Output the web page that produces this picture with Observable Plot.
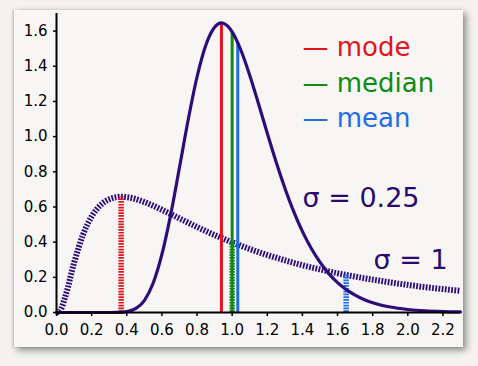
<!DOCTYPE html>
<html>
<head>
<meta charset="utf-8">
<script src="https://cdn.jsdelivr.net/npm/d3@7"></script>
<script src="https://cdn.jsdelivr.net/npm/@observablehq/plot@0.6"></script>
<style>
  html, body { margin: 0; padding: 0; width: 478px; height: 366px; overflow: hidden; background: #f3f2f0; }
  #card { position: absolute; left: 14px; top: 10px; width: 449px; height: 337px; background: #f7f6f4;
          box-shadow: 3px 3px 7px rgba(0,0,0,0.45), -1px 0 2px rgba(0,0,0,0.18); }
  #chart { position: absolute; left: 0; top: 0; }
</style>
</head>
<body>
<div id="card"></div>
<div id="chart"></div>
<script>
// σ = 0.25 curve
const x025 = [0, 0.1, 0.2, 0.3, 0.35, 0.4, 0.45, 0.5, 0.55, 0.6, 0.65, 0.7, 0.75, 0.8, 0.85, 0.9, 0.939, 0.95, 1.0, 1.05, 1.1, 1.15, 1.2, 1.25, 1.3, 1.35, 1.4, 1.45, 1.5, 1.55, 1.6, 1.65, 1.7, 1.75, 1.8, 1.9, 2.0, 2.1, 2.2, 2.3];
const y025 = [0, 0, 0, 0.0001, 0.0007, 0.0048, 0.0216, 0.068, 0.166, 0.330, 0.556, 0.824, 1.097, 1.339, 1.520, 1.622, 1.647, 1.645, 1.596, 1.491, 1.349, 1.187, 1.019, 0.857, 0.708, 0.575, 0.461, 0.365, 0.286, 0.221, 0.170, 0.130, 0.099, 0.074, 0.056, 0.031, 0.017, 0.009, 0.005, 0.003];
// σ = 1 curve
const x1 = [0, 0.02, 0.05, 0.1, 0.15, 0.2, 0.25, 0.3, 0.368, 0.4, 0.5, 0.6, 0.7, 0.8, 0.9, 1.0, 1.1, 1.2, 1.3, 1.4, 1.5, 1.6, 1.7, 1.8, 1.9, 2.0, 2.1, 2.2, 2.3];
const y1 = [0, 0.010, 0.090, 0.282, 0.440, 0.546, 0.610, 0.644, 0.658, 0.656, 0.628, 0.584, 0.535, 0.486, 0.441, 0.399, 0.361, 0.327, 0.297, 0.269, 0.245, 0.223, 0.204, 0.187, 0.171, 0.157, 0.144, 0.133, 0.123];

// statistics
const statNames = ["mode", "median", "mean"];
const statColors = ["#e3131b", "#118a11", "#1f6ce6"];
const stat025X = [0.939, 1.0, 1.032];
const stat025Y = [1.647, 1.596, 1.534];
const stat1X = [0.368, 1.0, 1.649];
const stat1Y = [0.658, 0.399, 0.214];

const xTicks = [0, 0.2, 0.4, 0.6, 0.8, 1.0, 1.2, 1.4, 1.6, 1.8, 2.0, 2.2];
const yTicks = [0, 0.2, 0.4, 0.6, 0.8, 1.0, 1.2, 1.4, 1.6];
const curveLabels = ["σ = 0.25", "σ = 1"];

const curveColor = "#2e0c7c";
const d025 = x025.map((x, i) => ({x, y: y025[i]}));
const d1 = x1.map((x, i) => ({x, y: y1[i]}));
const s025 = statNames.map((n, i) => ({n, x: stat025X[i], y: stat025Y[i], c: statColors[i]}));
const s1 = statNames.map((n, i) => ({n, x: stat1X[i], y: stat1Y[i], c: statColors[i]}));

const legendDy = [34, 70, 105];
const legendMarks = statNames.map((n, i) =>
  Plot.text([`— ${n}`], {text: d => d, fill: statColors[i], frameAnchor: "top-left", textAnchor: "start",
    lineAnchor: "middle", dx: 246, dy: legendDy[i], fontSize: 26}));

const plot = Plot.plot({
  width: 478,
  height: 366,
  marginLeft: 56,
  marginRight: 18,
  marginTop: 13,
  marginBottom: 54,
  style: {background: "transparent", fontFamily: "DejaVu Sans", color: "black", overflow: "visible"},
  x: {domain: [0, 2.3]},
  y: {domain: [0, 1.7]},
  marks: [
    Plot.line(d1, {x: "x", y: "y", stroke: curveColor, strokeWidth: 6, strokeDasharray: "1.8,1.4", strokeLinecap: "butt", curve: "monotone-x"}),
    Plot.ruleX(s1, {x: "x", y1: 0, y2: "y", stroke: "c", strokeWidth: 5.5, strokeDasharray: "1.7,1.1", strokeLinecap: "butt"}),
    Plot.ruleX(s025, {x: "x", y1: 0, y2: "y", stroke: "c", strokeWidth: 3}),
    Plot.line(d025, {x: "x", y: "y", stroke: curveColor, strokeWidth: 3.2, curve: "monotone-x"}),
    Plot.ruleX([0], {stroke: "black", strokeWidth: 2}),
    Plot.ruleY([0], {stroke: "black", strokeWidth: 2}),
    Plot.axisX({ticks: xTicks, tickFormat: d => d.toFixed(1), tickSize: 4, tickPadding: 8, fontSize: 15, label: null, strokeWidth: 1.5}),
    Plot.axisY({ticks: yTicks, tickFormat: d => d.toFixed(1), tickSize: 3, tickPadding: 6, fontSize: 15, label: null, strokeWidth: 1.5}),
    ...legendMarks,
    Plot.text([curveLabels[0]], {text: d => d, fill: "#2a0a70", frameAnchor: "top-left", textAnchor: "start", lineAnchor: "middle", dx: 246, dy: 185, fontSize: 27}),
    Plot.text([curveLabels[1]], {text: d => d, fill: "#2a0a70", frameAnchor: "top-left", textAnchor: "start", lineAnchor: "middle", dx: 317, dy: 247, fontSize: 27}),
  ]
});

document.getElementById("chart").appendChild(plot);
</script>
</body>
</html>
